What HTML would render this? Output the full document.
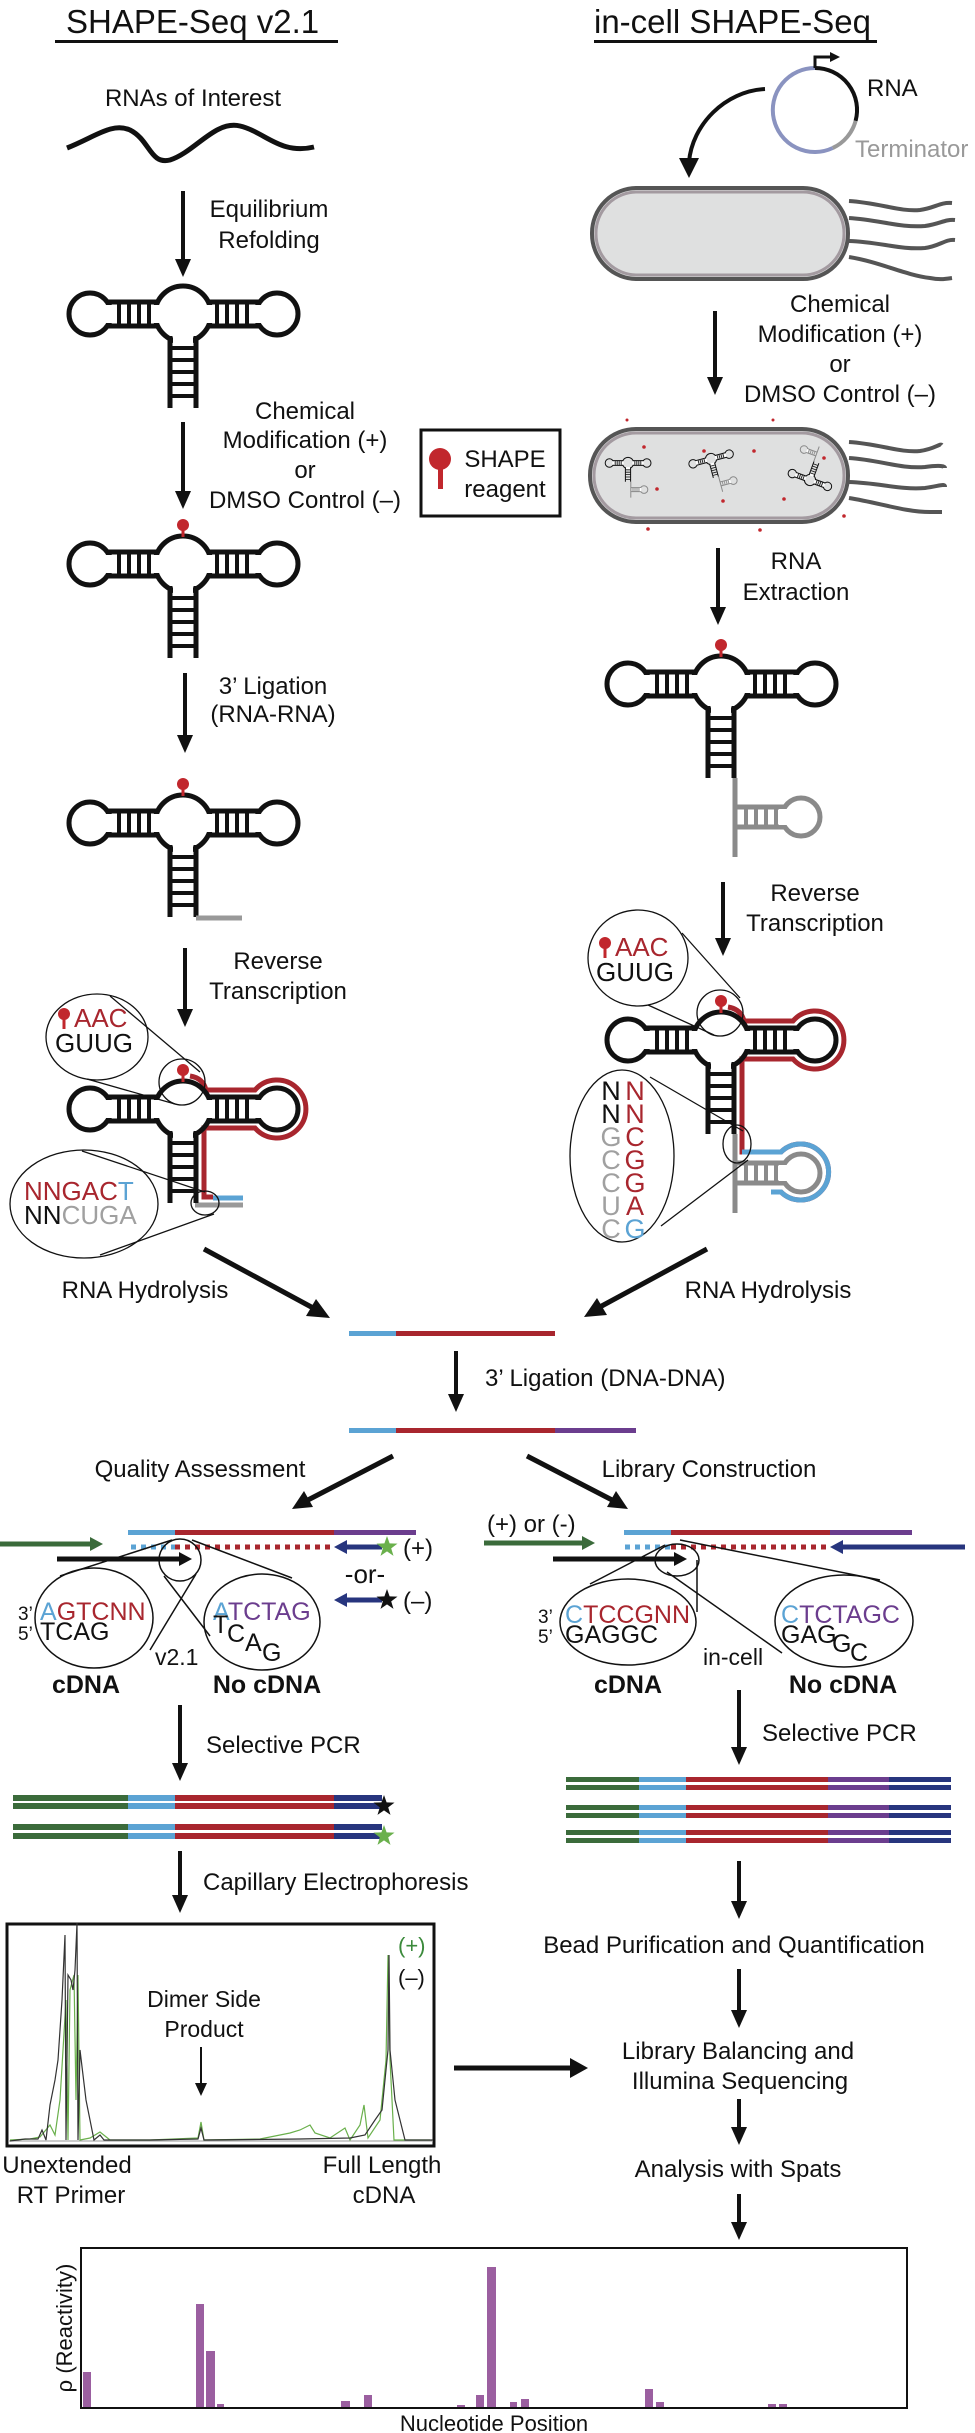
<!DOCTYPE html>
<html><head><meta charset="utf-8"><style>
html,body{margin:0;padding:0;background:#fff;}
svg{display:block;}
text{font-family:"Liberation Sans",Arial,sans-serif;fill:#111;}
</style></head><body>
<svg width="975" height="2433" viewBox="0 0 975 2433" xmlns="http://www.w3.org/2000/svg">
<defs>
<g id="rna" fill="none" stroke="#111" stroke-width="5">
 <circle cx="-93" cy="0" r="21"/>
 <circle cx="94" cy="0" r="21"/>
 <circle cx="0" cy="0" r="28"/>
 <g fill="#fff" stroke="none">
  <rect x="-78" y="-9" width="10" height="18"/>
  <rect x="68" y="-9" width="10" height="18"/>
  <rect x="-32" y="-9" width="10" height="18"/>
  <rect x="22" y="-9" width="10" height="18"/>
  <rect x="-10" y="21" width="20" height="12"/>
 </g>
 <path d="M-75,-12 H-24 M-75,12 H-24 M24,-12 H76 M24,12 H76 M-13,22 V94 M13,22 V94"/>
 <path stroke-width="4" d="M-64,-12V12 M-54,-12V12 M-44,-12V12 M-34,-12V12 M34,-12V12 M44,-12V12 M54,-12V12 M64,-12V12 M-13,34H13 M-13,46H13 M-13,58H13 M-13,70H13 M-13,82H13"/>
</g>
<g id="pin"><line x1="0" y1="-38" x2="0" y2="-27" stroke="#c1272d" stroke-width="3"/><circle cx="0" cy="-39" r="6" fill="#c1272d"/></g>
<g id="hairpin" fill="none" stroke="#8a8a8a" stroke-width="5">
 <path d="M14,94 V173 M14,123 H64 M14,143 H64"/>
 <circle cx="80" cy="133" r="19"/>
 <rect x="58" y="125" width="8" height="16" fill="#fff" stroke="none"/>
 <path stroke-width="4" d="M25,123V143 M35,123V143 M45,123V143 M55,123V143"/>
</g>
<polygon id="star" points="0,-11 2.6,-3.6 10.5,-3.4 4.2,1.4 6.5,8.9 0,4.4 -6.5,8.9 -4.2,1.4 -10.5,-3.4 -2.6,-3.6"/>
<polygon id="ah" points="-8,-18 8,-18 0,0" fill="#111"/>
</defs>

<!-- Headers -->
<text x="66" y="33" font-size="33">SHAPE-Seq v2.1</text>
<rect x="55" y="40" width="283" height="3" fill="#111"/>
<text x="594" y="33" font-size="33">in-cell SHAPE-Seq</text>
<rect x="594" y="40" width="283" height="3" fill="#111"/>

<!-- Left column -->
<text x="193" y="106" font-size="24" text-anchor="middle">RNAs of Interest</text>
<path d="M67,148 C95,137 112,122 130,130 C150,140 150,165 170,160 C195,152 215,120 240,126 C265,132 280,155 314,147" fill="none" stroke="#111" stroke-width="5"/>

<line x1="183" y1="191" x2="183" y2="262" stroke="#111" stroke-width="4"/><use href="#ah" x="183" y="277"/>
<text x="269" y="217" font-size="24" text-anchor="middle">Equilibrium</text>
<text x="269" y="248" font-size="24" text-anchor="middle">Refolding</text>

<use href="#rna" x="183" y="314"/>

<line x1="183" y1="422" x2="183" y2="494" stroke="#111" stroke-width="4"/><use href="#ah" x="183" y="509"/>
<g font-size="24" text-anchor="middle">
<text x="305" y="419">Chemical</text>
<text x="305" y="448">Modification (+)</text>
<text x="305" y="478">or</text>
<text x="305" y="508">DMSO Control (–)</text>
</g>
<rect x="421" y="430" width="139" height="86" fill="none" stroke="#111" stroke-width="3"/>
<rect x="438" y="460" width="5" height="29" fill="#c1272d"/><circle cx="440" cy="459" r="11" fill="#c1272d"/>
<text x="505" y="467" font-size="24" text-anchor="middle">SHAPE</text>
<text x="505" y="497" font-size="24" text-anchor="middle">reagent</text>

<use href="#rna" x="183" y="564"/><use href="#pin" x="183" y="564"/>

<line x1="185" y1="673" x2="185" y2="738" stroke="#111" stroke-width="4"/><use href="#ah" x="185" y="753"/>
<text x="273" y="694" font-size="24" text-anchor="middle">3’ Ligation</text>
<text x="273" y="722" font-size="24" text-anchor="middle">(RNA-RNA)</text>

<use href="#rna" x="183" y="823"/><use href="#pin" x="183" y="823"/>
<line x1="196" y1="918" x2="242" y2="918" stroke="#999" stroke-width="5"/>

<line x1="185" y1="948" x2="185" y2="1012" stroke="#111" stroke-width="4"/><use href="#ah" x="185" y="1027"/>
<text x="278" y="969" font-size="24" text-anchor="middle">Reverse</text>
<text x="278" y="999" font-size="24" text-anchor="middle">Transcription</text>

<!-- structure 5 -->
<g transform="translate(183,1109)">
 <path d="M7,-33 Q20,-31 23,-19 L72,-19 A29,29 0 1 1 72,19 L21,19 L21,88 L30,88" fill="none" stroke="#a8262e" stroke-width="5"/>
 <line x1="30" y1="89" x2="60" y2="89" stroke="#5ba3d4" stroke-width="5"/>
 <line x1="12" y1="96" x2="60" y2="96" stroke="#999" stroke-width="5"/>
</g>
<use href="#rna" x="183" y="1109"/><use href="#pin" x="183" y="1109"/>
<g fill="none" stroke="#111" stroke-width="1.3">
 <ellipse cx="97" cy="1037" rx="51" ry="43"/>
 <circle cx="182" cy="1082" r="23"/>
 <line x1="110" y1="996" x2="200" y2="1072"/>
 <line x1="87" y1="1079" x2="175" y2="1104"/>
 <ellipse cx="84" cy="1204" rx="74" ry="54"/>
 <ellipse cx="205" cy="1203" rx="14" ry="12"/>
 <line x1="82" y1="1151" x2="205" y2="1192"/>
 <line x1="100" y1="1255" x2="214" y2="1214"/>
</g>
<g transform="translate(64,1021)"><rect x="-1.5" y="-4" width="3" height="12" fill="#c1272d"/><circle cx="0" cy="-7" r="6" fill="#c1272d"/></g>
<text x="74" y="1027" font-size="26" fill="#a8262e" style="fill:#a8262e">AAC</text>
<text x="55" y="1052" font-size="26">GUUG</text>
<text x="24" y="1200" font-size="26"><tspan style="fill:#a8262e">NNGAC</tspan><tspan style="fill:#5ba3d4">T</tspan></text>
<text x="24" y="1224" font-size="26"><tspan>NN</tspan><tspan style="fill:#a0a0a0">CUGA</tspan></text>

<text x="145" y="1298" font-size="24" text-anchor="middle">RNA Hydrolysis</text>
<line x1="204" y1="1249" x2="315" y2="1309" stroke="#111" stroke-width="5"/>
<polygon points="330,1318 306,1316 316,1299" fill="#111"/>

<!-- Right column -->
<path d="M815,68 A42,42 0 0 1 855.6,120.9" fill="none" stroke="#111" stroke-width="4"/>
<path d="M855.6,120.9 A42,42 0 0 1 832.7,148" fill="none" stroke="#999" stroke-width="4"/>
<path d="M832.7,148 A42,42 0 1 1 815,68" fill="none" stroke="#8a93c0" stroke-width="4"/>
<path d="M815,68 V57 H831" fill="none" stroke="#111" stroke-width="3"/>
<polygon points="840,57 830,52 830,62" fill="#111"/>
<text x="867" y="96" font-size="24">RNA</text>
<text x="855" y="157" font-size="24" style="fill:#999">Terminator</text>
<path d="M765,89 C725,91 692,125 689,162" fill="none" stroke="#111" stroke-width="4"/>
<polygon points="679,158 699,158 689,178" fill="#111"/>

<!-- cell 1 -->
<g fill="none" stroke="#555" stroke-width="4">
 <path d="M849,201 C880,203 900,212 920,210 C935,208 940,202 952,203"/>
 <path d="M849,218 C880,220 900,228 925,226 C940,224 945,219 955,220"/>
 <path d="M849,241 C880,242 900,250 925,248 C940,246 945,239 955,240"/>
 <path d="M849,257 C880,262 905,275 930,278 C940,280 945,279 952,278"/>
</g>
<rect x="592" y="188" width="256" height="91" rx="45" fill="#dfe0e0" stroke="#555" stroke-width="4"/>
<rect x="596" y="192" width="248" height="83" rx="41" fill="none" stroke="#a39aa0" stroke-width="3"/>

<line x1="715" y1="311" x2="715" y2="380" stroke="#111" stroke-width="4"/><use href="#ah" x="715" y="395"/>
<g font-size="24" text-anchor="middle">
<text x="840" y="312">Chemical</text>
<text x="840" y="342">Modification (+)</text>
<text x="840" y="372">or</text>
<text x="840" y="402">DMSO Control (–)</text>
</g>

<!-- cell 2 -->
<g fill="none" stroke="#555" stroke-width="4">
 <path d="M849,442 C880,444 900,453 920,451 C935,449 940,443 942,445"/>
 <path d="M849,458 C880,460 900,469 925,467 C940,465 945,466 945,468"/>
 <path d="M849,482 C880,483 900,490 925,488 C940,486 945,483 945,487"/>
 <path d="M849,498 C880,503 905,512 930,512 C940,512 942,512 942,512"/>
</g>
<rect x="590" y="429" width="258" height="93" rx="46" fill="#dfe0e0" stroke="#555" stroke-width="4"/>
<rect x="594" y="433" width="250" height="85" rx="42" fill="none" stroke="#a39aa0" stroke-width="3"/>
<g transform="translate(628,463) scale(0.2)"><use href="#rna"/><g transform="translate(0,0)"><use href="#hairpin"/></g></g>
<g transform="translate(711,459) rotate(-15) scale(0.2)"><use href="#rna"/><use href="#hairpin"/></g>
<g transform="translate(810,480) rotate(200) scale(0.2)"><use href="#rna"/><use href="#hairpin"/></g>
<g fill="#c1272d">
 <circle cx="627" cy="420" r="1.5"/><circle cx="644" cy="447" r="1.8"/><circle cx="657" cy="489" r="1.8"/>
 <circle cx="704" cy="451" r="1.8"/><circle cx="723" cy="501" r="1.8"/><circle cx="754" cy="451" r="1.8"/>
 <circle cx="784" cy="499" r="1.8"/><circle cx="824" cy="458" r="1.8"/><circle cx="844" cy="516" r="1.8"/>
 <circle cx="648" cy="529" r="1.8"/><circle cx="760" cy="530" r="1.8"/><circle cx="773" cy="420" r="1.5"/>
</g>

<line x1="718" y1="548" x2="718" y2="610" stroke="#111" stroke-width="4"/><use href="#ah" x="718" y="625"/>
<text x="796" y="569" font-size="24" text-anchor="middle">RNA</text>
<text x="796" y="600" font-size="24" text-anchor="middle">Extraction</text>

<use href="#rna" x="721" y="684"/><use href="#pin" x="721" y="684"/>
<use href="#hairpin" x="721" y="684"/>

<line x1="723" y1="882" x2="723" y2="941" stroke="#111" stroke-width="4"/><use href="#ah" x="723" y="956"/>
<text x="815" y="901" font-size="24" text-anchor="middle">Reverse</text>
<text x="815" y="931" font-size="24" text-anchor="middle">Transcription</text>

<!-- structure 6 -->
<g transform="translate(721,1040)">
 <path d="M7,-33 Q20,-31 23,-19 L72,-19 A29,29 0 1 1 72,19 L21,19 L21,112 L60,112 A28,28 0 1 1 60,152 L50,152" fill="none" stroke="#a8262e" stroke-width="5"/>
 <path d="M21,112 L60,112 A28,28 0 1 1 60,152 L50,152" fill="none" stroke="#5ba3d4" stroke-width="5"/>
</g>
<use href="#rna" x="721" y="1040"/><use href="#pin" x="721" y="1040"/>
<use href="#hairpin" x="721" y="1040"/>
<g fill="none" stroke="#111" stroke-width="1.3">
 <ellipse cx="638" cy="958" rx="50" ry="48"/>
 <circle cx="720" cy="1013" r="23"/>
 <line x1="682" y1="933" x2="740" y2="998"/>
 <line x1="648" y1="1005" x2="714" y2="1035"/>
 <ellipse cx="622" cy="1156" rx="52" ry="86"/>
 <ellipse cx="737" cy="1144" rx="14" ry="19"/>
 <line x1="650" y1="1077" x2="743" y2="1131"/>
 <line x1="661" y1="1226" x2="748" y2="1160"/>
</g>
<g transform="translate(605,950)"><rect x="-1.5" y="-4" width="3" height="12" fill="#c1272d"/><circle cx="0" cy="-7" r="6" fill="#c1272d"/></g>
<text x="615" y="956" font-size="26" style="fill:#a8262e">AAC</text>
<text x="596" y="981" font-size="26">GUUG</text>
<g font-size="27" text-anchor="middle">
 <text x="611" y="1100">N</text><text x="611" y="1123">N</text>
 <text x="611" y="1146" style="fill:#a0a0a0">G</text><text x="611" y="1169" style="fill:#a0a0a0">C</text>
 <text x="611" y="1192" style="fill:#a0a0a0">C</text><text x="611" y="1215" style="fill:#a0a0a0">U</text>
 <text x="611" y="1238" style="fill:#a0a0a0">C</text>
 <text x="635" y="1100" style="fill:#a8262e">N</text><text x="635" y="1123" style="fill:#a8262e">N</text>
 <text x="635" y="1146" style="fill:#a8262e">C</text><text x="635" y="1169" style="fill:#a8262e">G</text>
 <text x="635" y="1192" style="fill:#a8262e">G</text><text x="635" y="1215" style="fill:#a8262e">A</text>
 <text x="635" y="1238" style="fill:#5ba3d4">G</text>
</g>

<text x="768" y="1298" font-size="24" text-anchor="middle">RNA Hydrolysis</text>
<line x1="707" y1="1249" x2="598" y2="1308" stroke="#111" stroke-width="5"/>
<polygon points="584,1317 597,1298 607,1315" fill="#111"/>

<!-- center -->
<rect x="349" y="1331" width="47" height="5" fill="#5ba3d4"/><rect x="396" y="1331" width="159" height="5" fill="#a8262e"/>
<line x1="456" y1="1351" x2="456" y2="1397" stroke="#111" stroke-width="4"/><use href="#ah" x="456" y="1412"/>
<text x="485" y="1386" font-size="24">3’ Ligation (DNA-DNA)</text>
<rect x="349" y="1428" width="47" height="5" fill="#5ba3d4"/><rect x="396" y="1428" width="159" height="5" fill="#a8262e"/><rect x="555" y="1428" width="81" height="5" fill="#6b3d8e"/>

<line x1="393" y1="1456" x2="306" y2="1501" stroke="#111" stroke-width="5"/>
<polygon points="292,1509 304,1491 313,1507" fill="#111"/>
<line x1="527" y1="1456" x2="614" y2="1501" stroke="#111" stroke-width="5"/>
<polygon points="628,1509 607,1507 616,1491" fill="#111"/>
<text x="200" y="1477" font-size="24" text-anchor="middle">Quality Assessment</text>
<text x="709" y="1477" font-size="24" text-anchor="middle">Library Construction</text>

<!-- Left QA schematic -->
<rect x="128" y="1530" width="47" height="5" fill="#5ba3d4"/><rect x="175" y="1530" width="159" height="5" fill="#a8262e"/><rect x="334" y="1530" width="82" height="5" fill="#6b3d8e"/>
<line x1="131" y1="1547" x2="175" y2="1547" stroke="#5ba3d4" stroke-width="5" stroke-dasharray="5,5"/>
<line x1="175" y1="1547" x2="332" y2="1547" stroke="#a8262e" stroke-width="5" stroke-dasharray="5,5"/>
<line x1="0" y1="1544" x2="92" y2="1544" stroke="#3b6b3b" stroke-width="5"/><polygon points="103,1544 90,1537 90,1551" fill="#3b6b3b"/>
<line x1="57" y1="1559" x2="180" y2="1559" stroke="#111" stroke-width="5"/><polygon points="192,1559 179,1552 179,1566" fill="#111"/>
<line x1="346" y1="1547" x2="382" y2="1547" stroke="#27357e" stroke-width="5"/><polygon points="334,1547 347,1540 347,1554" fill="#27357e"/>
<use href="#star" x="387" y="1547" fill="#6ab04c"/>
<text x="403" y="1556" font-size="24">(+)</text>
<text x="365" y="1583" font-size="26" text-anchor="middle">-or-</text>
<line x1="346" y1="1600" x2="382" y2="1600" stroke="#27357e" stroke-width="5"/><polygon points="334,1600 347,1593 347,1607" fill="#27357e"/>
<use href="#star" x="387" y="1600" fill="#111"/>
<text x="403" y="1609" font-size="24">(–)</text>
<g fill="none" stroke="#111" stroke-width="1.5">
 <circle cx="180" cy="1560" r="21"/>
 <ellipse cx="94" cy="1618" rx="59" ry="50"/>
 <ellipse cx="262" cy="1622" rx="58" ry="48"/>
 <line x1="172" y1="1540" x2="60" y2="1576"/>
 <line x1="192" y1="1540" x2="292" y2="1578"/>
 <line x1="164" y1="1576" x2="210" y2="1636"/>
 <line x1="196" y1="1574" x2="150" y2="1650"/>
</g>
<text x="18" y="1620" font-size="19">3’</text><text x="18" y="1640" font-size="19">5’</text>
<text x="40" y="1620" font-size="25"><tspan style="fill:#5ba3d4">A</tspan><tspan style="fill:#a8262e">GTCNN</tspan></text>
<text x="40" y="1640" font-size="25">TCAG</text>
<text x="213" y="1620" font-size="25"><tspan style="fill:#5ba3d4">A</tspan><tspan style="fill:#6b3d8e">TCTAG</tspan></text>
<text x="213" y="1633" font-size="25">T</text><text x="227" y="1642" font-size="25">C</text><text x="245" y="1651" font-size="25">A</text><text x="262" y="1661" font-size="25">G</text>
<text x="155" y="1665" font-size="23">v2.1</text>
<text x="86" y="1693" font-size="25" font-weight="bold" text-anchor="middle">cDNA</text>
<text x="267" y="1693" font-size="25" font-weight="bold" text-anchor="middle">No cDNA</text>

<!-- Right LC schematic -->
<text x="487" y="1532" font-size="24">(+) or (-)</text>
<rect x="624" y="1530" width="47" height="5" fill="#5ba3d4"/><rect x="671" y="1530" width="159" height="5" fill="#a8262e"/><rect x="830" y="1530" width="82" height="5" fill="#6b3d8e"/>
<line x1="625" y1="1547" x2="671" y2="1547" stroke="#5ba3d4" stroke-width="5" stroke-dasharray="5,5"/>
<line x1="671" y1="1547" x2="830" y2="1547" stroke="#a8262e" stroke-width="5" stroke-dasharray="5,5"/>
<line x1="842" y1="1547" x2="965" y2="1547" stroke="#27357e" stroke-width="5"/><polygon points="830,1547 843,1540 843,1554" fill="#27357e"/>
<line x1="484" y1="1543" x2="584" y2="1543" stroke="#3b6b3b" stroke-width="5"/><polygon points="595,1543 582,1536 582,1550" fill="#3b6b3b"/>
<line x1="553" y1="1559" x2="675" y2="1559" stroke="#111" stroke-width="5"/><polygon points="687,1559 674,1552 674,1566" fill="#111"/>
<g fill="none" stroke="#111" stroke-width="1.5">
 <ellipse cx="677" cy="1560" rx="22" ry="16"/>
 <ellipse cx="628" cy="1622" rx="68" ry="43"/>
 <ellipse cx="844" cy="1621" rx="69" ry="46"/>
 <line x1="665" y1="1545" x2="590" y2="1584"/>
 <line x1="697" y1="1560" x2="697" y2="1612"/>
 <line x1="680" y1="1540" x2="880" y2="1580"/>
 <line x1="667" y1="1572" x2="782" y2="1653"/>
</g>
<text x="538" y="1623" font-size="19">3’</text><text x="538" y="1643" font-size="19">5’</text>
<text x="565" y="1623" font-size="25"><tspan style="fill:#5ba3d4">C</tspan><tspan style="fill:#a8262e">TCCGNN</tspan></text>
<text x="565" y="1643" font-size="25">GAGGC</text>
<text x="781" y="1623" font-size="25"><tspan style="fill:#5ba3d4">C</tspan><tspan style="fill:#6b3d8e">TCTAGC</tspan></text>
<text x="781" y="1643" font-size="25">GAG</text><text x="832" y="1652" font-size="25">G</text><text x="850" y="1661" font-size="25">C</text>
<text x="703" y="1665" font-size="23">in-cell</text>
<text x="628" y="1693" font-size="25" font-weight="bold" text-anchor="middle">cDNA</text>
<text x="843" y="1693" font-size="25" font-weight="bold" text-anchor="middle">No cDNA</text>

<!-- Selective PCR left -->
<line x1="180" y1="1705" x2="180" y2="1766" stroke="#111" stroke-width="4"/><use href="#ah" x="180" y="1781"/>
<text x="206" y="1753" font-size="24">Selective PCR</text>
<g>
 <rect x="13" y="1795" width="115" height="6" fill="#3b6b3b"/><rect x="128" y="1795" width="47" height="6" fill="#5ba3d4"/><rect x="175" y="1795" width="159" height="6" fill="#a8262e"/><rect x="334" y="1795" width="48" height="6" fill="#27357e"/>
 <rect x="13" y="1803" width="115" height="6" fill="#3b6b3b"/><rect x="128" y="1803" width="47" height="6" fill="#5ba3d4"/><rect x="175" y="1803" width="159" height="6" fill="#a8262e"/><rect x="334" y="1803" width="48" height="6" fill="#27357e"/>
 <rect x="13" y="1824" width="115" height="6" fill="#3b6b3b"/><rect x="128" y="1824" width="47" height="6" fill="#5ba3d4"/><rect x="175" y="1824" width="159" height="6" fill="#a8262e"/><rect x="334" y="1824" width="48" height="6" fill="#27357e"/>
 <rect x="13" y="1833" width="115" height="6" fill="#3b6b3b"/><rect x="128" y="1833" width="47" height="6" fill="#5ba3d4"/><rect x="175" y="1833" width="159" height="6" fill="#a8262e"/><rect x="334" y="1833" width="48" height="6" fill="#27357e"/>
</g>
<use href="#star" x="384" y="1806" fill="#111"/>
<use href="#star" x="384" y="1836" fill="#6ab04c"/>

<!-- Selective PCR right -->
<line x1="739" y1="1690" x2="739" y2="1750" stroke="#111" stroke-width="4"/><use href="#ah" x="739" y="1765"/>
<text x="762" y="1741" font-size="24">Selective PCR</text>
<g id="pcr3">
 <rect x="566" y="1777" width="73" height="5" fill="#3b6b3b"/><rect x="639" y="1777" width="47" height="5" fill="#5ba3d4"/><rect x="686" y="1777" width="142" height="5" fill="#a8262e"/><rect x="828" y="1777" width="61" height="5" fill="#6b3d8e"/><rect x="889" y="1777" width="62" height="5" fill="#27357e"/>
 <rect x="566" y="1785" width="73" height="5" fill="#3b6b3b"/><rect x="639" y="1785" width="47" height="5" fill="#5ba3d4"/><rect x="686" y="1785" width="142" height="5" fill="#a8262e"/><rect x="828" y="1785" width="61" height="5" fill="#6b3d8e"/><rect x="889" y="1785" width="62" height="5" fill="#27357e"/>
</g>
<use href="#pcr3" y="28"/>
<use href="#pcr3" y="53"/>

<!-- Capillary -->
<line x1="180" y1="1851" x2="180" y2="1898" stroke="#111" stroke-width="4"/><use href="#ah" x="180" y="1913"/>
<text x="203" y="1890" font-size="24">Capillary Electrophoresis</text>
<rect x="7" y="1924" width="427" height="222" fill="none" stroke="#111" stroke-width="3"/>
<line x1="8" y1="2141" x2="433" y2="2141" stroke="#999" stroke-width="1"/>
<polyline fill="none" stroke="#6ab04c" stroke-width="1.2" points="10,2140 30,2139 40,2137 50,2125 55,2135 60,2100 66,2000 68,2140 70,1990 74,1975 76,2100 78,1975 80,2140 90,2138 100,2132 110,2140 150,2140 198,2138 201,2122 204,2140 260,2139 290,2133 300,2130 310,2125 315,2133 330,2138 345,2128 350,2140 360,2125 364,2105 368,2138 380,2120 386,2060 388,1955 390,2060 394,2140 400,2140 430,2140"/>
<polyline fill="none" stroke="#333" stroke-width="1.2" points="10,2141 25,2139 38,2139 42,2130 46,2140 50,2105 55,2080 58,2060 62,2000 65,1935 66,2140 68,1975 71,1980 73,1990 75,1970 77,1923 78,2140 80,2050 86,2100 94,2140 100,2135 104,2140 150,2140 198,2139 201,2128 204,2140 300,2139 350,2138 365,2135 375,2120 382,2110 386,2070 388,2050 389,1955 390,2050 395,2100 405,2140 433,2140"/>
<text x="398" y="1953" font-size="22" style="fill:#3b8a3b">(+)</text>
<text x="398" y="1985" font-size="22">(–)</text>
<text x="204" y="2007" font-size="23" text-anchor="middle">Dimer Side</text>
<text x="204" y="2037" font-size="23" text-anchor="middle">Product</text>
<line x1="201" y1="2047" x2="201" y2="2085" stroke="#111" stroke-width="2"/><polygon points="195,2083 207,2083 201,2096" fill="#111"/>
<text x="67" y="2173" font-size="24" text-anchor="middle">Unextended</text>
<text x="71" y="2203" font-size="24" text-anchor="middle">RT Primer</text>
<text x="382" y="2173" font-size="24" text-anchor="middle">Full Length</text>
<text x="384" y="2203" font-size="24" text-anchor="middle">cDNA</text>
<line x1="454" y1="2068" x2="572" y2="2068" stroke="#111" stroke-width="5"/><polygon points="588,2068 570,2058 570,2078" fill="#111"/>

<!-- Right pipeline -->
<line x1="739" y1="1861" x2="739" y2="1904" stroke="#111" stroke-width="4"/><use href="#ah" x="739" y="1919"/>
<text x="734" y="1953" font-size="24" text-anchor="middle">Bead Purification and Quantification</text>
<line x1="739" y1="1969" x2="739" y2="2013" stroke="#111" stroke-width="4"/><use href="#ah" x="739" y="2028"/>
<text x="738" y="2059" font-size="24" text-anchor="middle">Library Balancing and</text>
<text x="740" y="2089" font-size="24" text-anchor="middle">Illumina Sequencing</text>
<line x1="739" y1="2099" x2="739" y2="2130" stroke="#111" stroke-width="4"/><use href="#ah" x="739" y="2145"/>
<text x="738" y="2177" font-size="24" text-anchor="middle">Analysis with Spats</text>
<line x1="739" y1="2194" x2="739" y2="2225" stroke="#111" stroke-width="4"/><use href="#ah" x="739" y="2240"/>

<!-- bar chart -->
<rect x="81" y="2248" width="826" height="160" fill="none" stroke="#111" stroke-width="2"/>
<g fill="#9b5fa0">
 <rect x="83" y="2372" width="8" height="35"/>
 <rect x="196" y="2304" width="8" height="103"/>
 <rect x="206" y="2351" width="9" height="56"/>
 <rect x="217" y="2404" width="7" height="3"/>
 <rect x="341" y="2401" width="9" height="6"/>
 <rect x="364" y="2395" width="8" height="12"/>
 <rect x="457" y="2405" width="8" height="2"/>
 <rect x="476" y="2395" width="8" height="12"/>
 <rect x="487" y="2267" width="9" height="140"/>
 <rect x="510" y="2402" width="7" height="5"/>
 <rect x="521" y="2399" width="8" height="8"/>
 <rect x="645" y="2389" width="8" height="18"/>
 <rect x="656" y="2402" width="8" height="5"/>
 <rect x="768" y="2404" width="8" height="3"/>
 <rect x="779" y="2404" width="8" height="3"/>
</g>
<text transform="translate(72,2328) rotate(-90)" font-size="22" text-anchor="middle">ρ (Reactivity)</text>
<text x="494" y="2431" font-size="22" text-anchor="middle">Nucleotide Position</text>
</svg>
</body></html>
